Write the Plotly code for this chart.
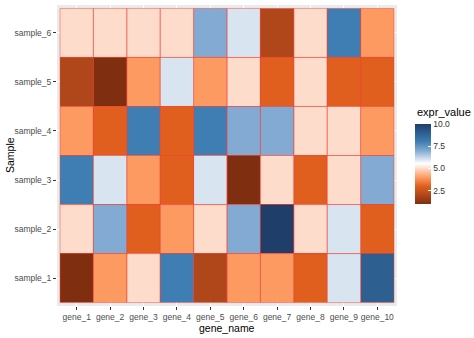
import plotly.graph_objects as go

genes = ["gene_1", "gene_2", "gene_3", "gene_4", "gene_5",
         "gene_6", "gene_7", "gene_8", "gene_9", "gene_10"]
samples = ["sample_1", "sample_2", "sample_3", "sample_4", "sample_5", "sample_6"]

# expression values, one list per sample (gene_1 .. gene_10)
sample_1 = [1, 4, 5, 8, 2, 4, 4, 3, 6, 9]
sample_2 = [5, 7, 3, 4, 5, 7, 10, 5, 6, 3]
sample_3 = [8, 6, 4, 3, 6, 1, 5, 3, 5, 7]
sample_4 = [4, 3, 8, 3, 8, 7, 7, 5, 5, 4]
sample_5 = [2, 1, 4, 6, 4, 5, 3, 5, 3, 3]
sample_6 = [5, 5, 5, 5, 7, 6, 2, 5, 8, 4]
z = [sample_1, sample_2, sample_3, sample_4, sample_5, sample_6]

zmin, zmax = 1, 10
stops = [(1, "#7F2F10"), (2, "#B0471A"), (3, "#E05F1E"), (4, "#FD9A62"),
         (5, "#FEDCCB"), (5.55, "#FFFFFF"), (6, "#D9E4F1"), (7, "#82AAD2"),
         (8, "#3F7EB2"), (9, "#2D5F90"), (10, "#1F3E6A")]
colorscale = [[(v - zmin) / (zmax - zmin), c] for v, c in stops]

font = "Liberation Sans, Arial, sans-serif"

fig = go.Figure(go.Heatmap(
    x=genes, y=samples, z=z, zmin=zmin, zmax=zmax,
    colorscale=colorscale,
    colorbar=dict(
        x=1.053, xanchor="left", y=0.472, yanchor="middle",
        lenmode="pixels", len=80, thickness=16, outlinewidth=0,
        tickvals=[2.5, 5.0, 7.5, 10.0], tickformat=".1f",
        ticks="inside", ticklen=3, tickcolor="white",
        tickfont=dict(size=8.5, color="#333333", family=font),
        xpad=0, ypad=0,
    ),
))

# thin red tile borders
shapes = []
for i, s in enumerate(samples):
    for j, g in enumerate(genes):
        shapes.append(dict(type="rect", xref="x", yref="y",
                           x0=j - 0.5, x1=j + 0.5, y0=i - 0.5, y1=i + 0.5,
                           line=dict(color="rgba(240,70,60,0.6)", width=0.8),
                           fillcolor="rgba(0,0,0,0)"))

annotations = [
    dict(text="gene_name", xref="paper", yref="paper", x=0.5, y=-0.073,
         xanchor="center", yanchor="middle", showarrow=False,
         font=dict(size=10.5, color="#000000", family=font)),
    dict(text="Sample", xref="paper", yref="paper", x=-0.138, y=0.502,
         xanchor="center", yanchor="middle", showarrow=False, textangle=-90,
         font=dict(size=10.5, color="#000000", family=font)),
    dict(text="expr_value", xref="paper", yref="paper", x=1.053, y=0.645,
         xanchor="left", yanchor="middle", showarrow=False,
         font=dict(size=11, color="#000000", family=font)),
]

fig.update_layout(
    width=474, height=338,
    margin=dict(l=57, r=77, t=5, b=32),
    paper_bgcolor="white", plot_bgcolor="#EBEBEB",
    font=dict(family=font),
    shapes=shapes,
    annotations=annotations,
    xaxis=dict(
        range=[-0.59, 9.59], showgrid=True, gridcolor="white", gridwidth=1,
        zeroline=False, ticks="outside", ticklen=3, tickcolor="#333333",
        tickangle=0, tickfont=dict(size=8.5, color="#4D4D4D"),
        automargin=False,
    ),
    yaxis=dict(
        range=[-0.57, 5.57], showgrid=True, gridcolor="white", gridwidth=1,
        zeroline=False, ticks="outside", ticklen=3, tickcolor="#333333",
        tickfont=dict(size=8.5, color="#4D4D4D"),
        automargin=False,
    ),
)

fig.write_html("out.html")
